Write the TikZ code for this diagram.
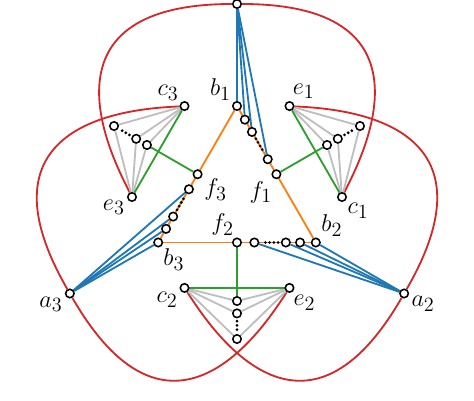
\documentclass[tikz,border=0pt]{standalone}
\usetikzlibrary{calc, backgrounds}

\definecolor{edgered}{HTML}{D62728}
\definecolor{edgeblue}{HTML}{1F77B4}
\definecolor{edgeorange}{HTML}{FF7F0E}
\definecolor{edgegreen}{HTML}{2CA02C}
\definecolor{edgegray}{HTML}{BEBEBE}

\tikzset{
    vtx/.style={circle, draw=black, fill=white, line width=1.1pt, minimum size=6pt, inner sep=0pt},
    lbl/.style={font=\fontsize{19}{21}\selectfont, inner sep=1.5pt},
    edge/.style={line width=1.3pt, line join=round},
    dotline/.style={black, line width=2.2pt, line cap=round, dash pattern=on 0pt off 3pt, shorten <=2pt, shorten >=2pt},
}

\begin{document}
\begin{tikzpicture}
    \useasboundingbox (-5.925,-5.1) rectangle (5.925,4.925);
    % outer vertices
    \node[vtx] (a1) at (90:4.825) {};
    \node[vtx, label={[lbl]-5:$a_2$}] (a2) at (-30:4.825) {};
    \node[vtx, label={[lbl]188:$a_3$}] (a3) at (210:4.825) {};
    % three rotated copies
    \foreach \i/\r/\bl/\cl/\el/\fl in {1/0/140/-50/80/-115, 2/-120/50/200/-70/100, 3/120/-55/135/185/-30} {
        \node[vtx, label={[lbl]\bl:$b_\i$}] (b\i) at (90+\r:2.275) {};
        \node[vtx, label={[lbl]\cl:$c_\i$}] (c\i) at (\r:2.625) {};
        \node[vtx, label={[lbl]\el:$e_\i$}] (e\i) at (60+\r:2.625) {};
        \node[vtx, label={[lbl]\fl:$f_\i$}] (f\i) at (30+\r:1.1375) {};
        \node[vtx] (s\i1) at ($(b\i)!0.2!(f\i)$) {};
        \node[vtx] (s\i2) at ($(b\i)!0.38!(f\i)$) {};
        \node[vtx] (s\i3) at ($(b\i)!0.78!(f\i)$) {};
        \node[vtx] (g\i1) at (30+\r:2.6) {};
        \node[vtx] (g\i2) at (30+\r:2.91) {};
        \node[vtx] (g\i3) at (30+\r:3.55) {};
    }
    % edges
    \begin{scope}[on background layer]
    \begin{scope}[edge]
        \foreach \i/\r/\p in {1/0/3, 2/-120/1, 3/120/2} {
            \begin{scope}[rotate=\r]
                \draw[edgered] (a\i) .. controls (5.2,4.825) and (3.05,0.85) .. (c\i);
                \draw[edgered] (a\i) .. controls (-5.2,4.825) and (-3.05,0.85) .. (e\p);
            \end{scope}
        }
        \foreach \i in {1,2,3} {
            \foreach \k in {1,2,3} {
                \draw[edgegray] (c\i) -- (g\i\k);
                \draw[edgegray] (e\i) -- (g\i\k);
            }
            \draw[edgegreen] (c\i) -- (e\i);
            \draw[edgegreen] (f\i) -- (g\i1);
        }
        \draw[edgeorange] (b1) -- (b2);
        \draw[edgeorange] (b2) -- (b3);
        \draw[edgeorange] (b3) -- (b1);
        \foreach \i in {1,2,3} {
            \foreach \n in {b\i, s\i1, s\i2, s\i3}
                \draw[edgeblue] (a\i) -- (\n);
            \draw[dotline] (s\i2) -- (s\i3);
            \draw[dotline] (g\i2) -- (g\i3);
        }
    \end{scope}
    \end{scope}
\end{tikzpicture}
\end{document}
